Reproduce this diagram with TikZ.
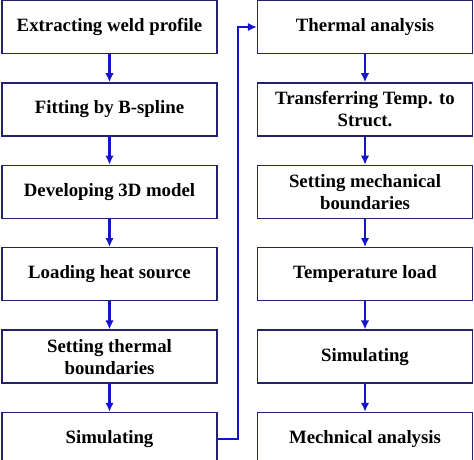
\documentclass[tikz,border=0pt]{standalone}
\usepackage{fontspec}
\setmainfont{Liberation Serif}
\usepackage{tikz}
\usetikzlibrary{positioning,arrows.meta}
\definecolor{boxline}{HTML}{22226E}
\definecolor{flowblue}{HTML}{1414C8}
\tikzset {
    style A/.style={
        draw=boxline,
        line width=1.4pt,
        fill=white,
        rectangle, % Set the shape as a rectangle
        minimum width=215pt,
        minimum height=53pt,
        inner sep=2pt,
        align=center,
        font=\fontsize{18.8}{22}\selectfont\bfseries,
    },
    flow/.style={
        draw=flowblue,
        line width=2.2pt,
        ->,
    },
}
\begin{document}
\begin{tikzpicture}
        [>={Latex[length=9pt,width=8.5pt]}, every node/.style={style A}]
        \useasboundingbox (0,0) rectangle (474pt,-459pt);

        % left column
        \node (extract) at (109.5pt,-27pt) {Extracting weld profile};
        \node[below=28pt of extract] (fit) {Fitting by B-spline};
        \node[below=28pt of fit] (model) {Developing 3D model};
        \node[below=28pt of model] (heat) {Loading heat source};
        \node[below=28pt of heat] (thbound) {Setting thermal\\boundaries};
        \node[below=28pt of thbound] (simL) {Simulating};

        % right column
        \node (thermal) at (365pt,-27pt) {Thermal analysis};
        \node[below=28pt of thermal] (transfer) {Transferring Temp. to\\Struct.};
        \node[below=28pt of transfer] (mechbound) {Setting mechanical\\boundaries};
        \node[below=28pt of mechbound] (tload) {Temperature load};
        \node[below=28pt of tload] (simR) {Simulating};
        \node[below=28pt of simR] (mech) {Mechnical analysis};

        \draw[flow] (extract) -- (fit);
        \draw[flow] (fit)     -- (model);
        \draw[flow] (model)   -- (heat);
        \draw[flow] (heat)    -- (thbound);
        \draw[flow] (thbound) -- (simL);
        \draw[flow] (simL.east) -- ++(20pt,0) |- (thermal.west);
        \draw[flow] (thermal)   -- (transfer);
        \draw[flow] (transfer)  -- (mechbound);
        \draw[flow] (mechbound) -- (tload);
        \draw[flow] (tload)     -- (simR);
        \draw[flow] (simR)      -- (mech);
\end{tikzpicture}
\end{document}
